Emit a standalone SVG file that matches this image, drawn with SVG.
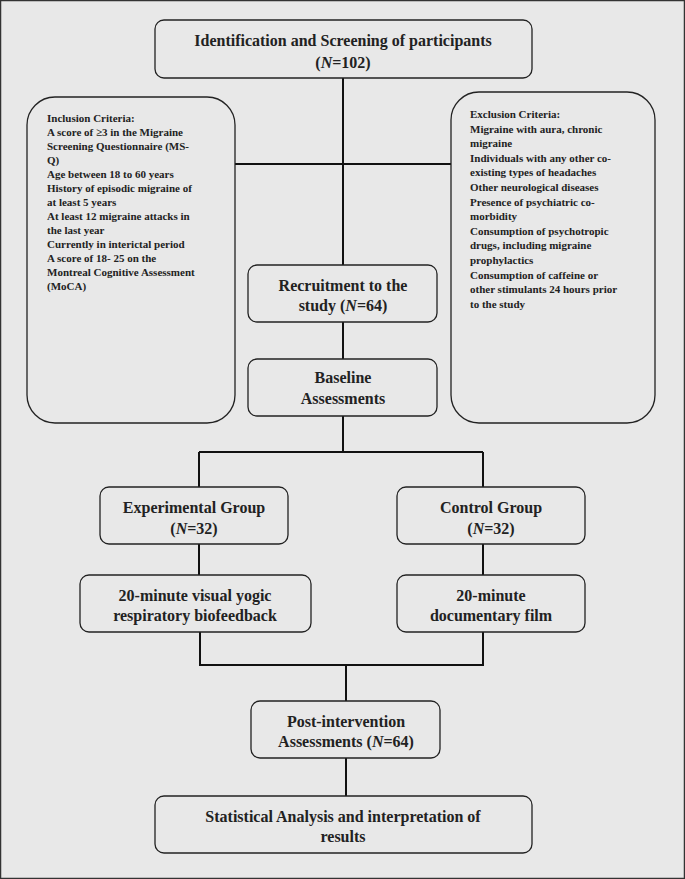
<svg xmlns="http://www.w3.org/2000/svg" width="685" height="879" viewBox="0 0 685 879">
<style>
.b{fill:#e8e8e8;stroke:#222;stroke-width:1.3}
.t{font-family:"Liberation Serif",serif;font-weight:bold;font-size:16px;fill:#222;text-anchor:middle}
.s{font-family:"Liberation Serif",serif;font-weight:bold;font-size:11px;fill:#222}
.c{stroke:#111;stroke-width:2;fill:none}
</style>
<rect x="0.5" y="0.5" width="684" height="878" fill="#e8e8e8" stroke="#333" stroke-width="1.5"/>
<g id="connectors">
<path class="c" d="M343 78V265M235 164H451M343 322V359M343 416V452M199 452H483M199 452V487M483 452V487M199 544V575M483 544V575M200 632V665H483V632M346 665V701M346 758V796"/>
</g>
<g id="n1"><rect class="b" x="155" y="20" width="377" height="58" rx="9"/><text class="t" x="343" y="46">Identification and Screening of participants</text><text class="t" x="343" y="68">(<tspan font-style="italic">N</tspan>=102)</text></g>
<g id="inc"><rect class="b" x="27" y="97" width="208" height="326" rx="28"/>
<text class="s" x="47" y="122"><tspan x="47">Inclusion Criteria:</tspan><tspan x="47" dy="14">A score of ≥3 in the Migraine</tspan><tspan x="47" dy="14">Screening Questionnaire (MS-</tspan><tspan x="47" dy="14">Q)</tspan><tspan x="47" dy="14">Age between 18 to 60 years</tspan><tspan x="47" dy="14">History of episodic migraine of</tspan><tspan x="47" dy="14">at least 5 years</tspan><tspan x="47" dy="14">At least 12 migraine attacks in</tspan><tspan x="47" dy="14">the last year</tspan><tspan x="47" dy="14">Currently in interictal period</tspan><tspan x="47" dy="14">A score of 18- 25 on the</tspan><tspan x="47" dy="14">Montreal Cognitive Assessment</tspan><tspan x="47" dy="14">(MoCA)</tspan></text></g>
<g id="exc"><rect class="b" x="451" y="92" width="204" height="331" rx="28"/>
<text class="s" x="470" y="118"><tspan x="470">Exclusion Criteria:</tspan><tspan x="470" dy="14.6">Migraine with aura, chronic</tspan><tspan x="470" dy="14.6">migraine</tspan><tspan x="470" dy="14.6">Individuals with any other co-</tspan><tspan x="470" dy="14.6">existing types of headaches</tspan><tspan x="470" dy="14.6">Other neurological diseases</tspan><tspan x="470" dy="14.6">Presence of psychiatric co-</tspan><tspan x="470" dy="14.6">morbidity</tspan><tspan x="470" dy="14.6">Consumption of psychotropic</tspan><tspan x="470" dy="14.6">drugs, including migraine</tspan><tspan x="470" dy="14.6">prophylactics</tspan><tspan x="470" dy="14.6">Consumption of caffeine or</tspan><tspan x="470" dy="14.6">other stimulants 24 hours prior</tspan><tspan x="470" dy="14.6">to the study</tspan></text></g>
<g id="rec"><rect class="b" x="248" y="265" width="189" height="57" rx="9"/><text class="t" x="343" y="291" font-size="17">Recruitment to the</text><text class="t" x="343" y="311" font-size="17">study (<tspan font-style="italic">N</tspan>=64)</text></g>
<g id="base"><rect class="b" x="248" y="359" width="189" height="57" rx="9"/><text class="t" x="343" y="383">Baseline</text><text class="t" x="343" y="404">Assessments</text></g>
<g id="exp"><rect class="b" x="100" y="487" width="188" height="57" rx="9"/><text class="t" x="194" y="513">Experimental Group</text><text class="t" x="194" y="534">(<tspan font-style="italic">N</tspan>=32)</text></g>
<g id="ctl"><rect class="b" x="397" y="487" width="188" height="57" rx="9"/><text class="t" x="491" y="513">Control Group</text><text class="t" x="491" y="534">(<tspan font-style="italic">N</tspan>=32)</text></g>
<g id="yog"><rect class="b" x="80" y="575" width="231" height="57" rx="9"/><text class="t" x="195" y="601">20-minute visual yogic</text><text class="t" x="195" y="621">respiratory biofeedback</text></g>
<g id="doc"><rect class="b" x="397" y="575" width="188" height="57" rx="9"/><text class="t" x="491" y="601">20-minute</text><text class="t" x="491" y="621">documentary film</text></g>
<g id="post"><rect class="b" x="251" y="701" width="189" height="57" rx="9"/><text class="t" x="346" y="727">Post-intervention</text><text class="t" x="346" y="747">Assessments (<tspan font-style="italic">N</tspan>=64)</text></g>
<g id="stat"><rect class="b" x="155" y="796" width="377" height="57" rx="9"/><text class="t" x="343" y="822">Statistical Analysis and interpretation of</text><text class="t" x="343" y="842">results</text></g>
</svg>
